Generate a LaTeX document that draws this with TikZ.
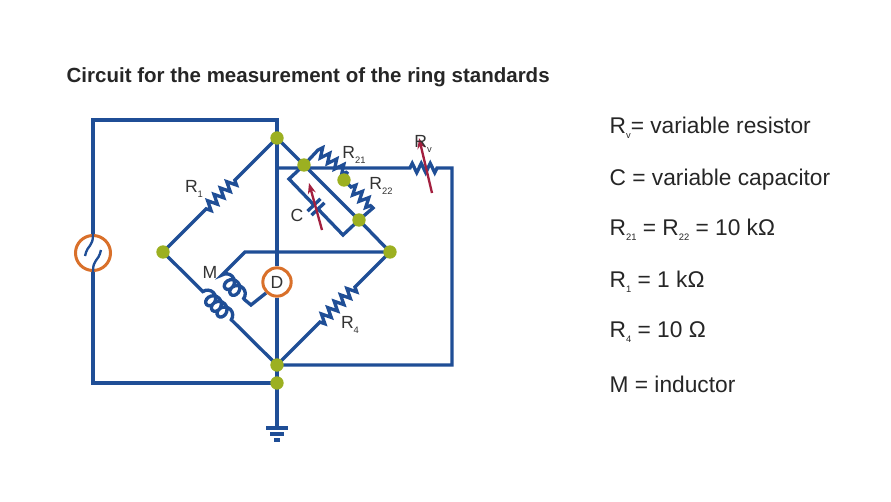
\documentclass[tikz,border=0pt]{standalone}
\usepackage{fontspec}
\setmainfont{Liberation Sans}
\usetikzlibrary{calc}
\usetikzlibrary{positioning}
\usetikzlibrary{decorations.pathmorphing}
\usetikzlibrary{decorations.pathreplacing}
\usetikzlibrary{arrows.meta}
\definecolor{wire}{HTML}{1F4E96}
\definecolor{dot}{HTML}{9CB021}
\definecolor{ring}{HTML}{D9702A}
\definecolor{knob}{HTML}{A3203F}
\newcommand{\lowsub}[1]{\raisebox{-0.45ex}{\footnotesize #1}}
\tikzset{
  junction/.style={circle, fill=dot, inner sep=0pt, minimum size=0.4cm},
  res/.style={decorate, decoration={zigzag, amplitude=0.14cm, segment length=0.27cm}},
  ind/.style={decorate, decoration={coil, aspect=0.9, amplitude=0.2cm, segment length=0.24cm}},
  lbl/.style={font=\fontsize{15}{17}\selectfont, inner sep=0pt},
  legend/.style={font=\fontsize{19.4}{23}\selectfont, anchor=west, inner sep=0pt},
}
\begin{document}
\begin{tikzpicture}[x=0.03cm, y=-0.03cm, line width=0.1cm, wire]
	\useasboundingbox (0,0) rectangle (891,501);
	\fill[white] (0,0) rectangle (891,501);
	
	\node[font=\bfseries\fontsize{17.5}{20}\selectfont, anchor=west, inner sep=0pt, black!85] (title) at (65,77) {Circuit for the measurement of the ring standards};
	
	% bridge corners
	\coordinate (T) at (277,138);
	\coordinate (L) at (163,252);
	\coordinate (R) at (390,252);
	\coordinate (B) at (277,365);
	\coordinate (G) at (277,383);
	\coordinate (P1) at (304,165);
	\coordinate (P2) at (344,180);
	\coordinate (P3) at (359,220);
	\coordinate (E) at (277,428);
	
	% source loop
	\draw (G) -- (93,383) -- (93,120) -- (277,120) -- (T);
	\node[circle, draw=ring, fill=white, line width=0.09cm, minimum size=1.05cm] (S) at (93,253) {};
	\draw[line width=0.07cm] ($(S)+(-8,3)$) .. controls ($(S)+(-5,-10)$) and ($(S)+(0,-5)$) .. (S) .. controls ($(S)+(0,5)$) and ($(S)+(5,10)$) .. ($(S)+(8,-3)$);
	
	% bridge arms
	\draw (T) -- ($(T)!0.37!(L)$) decorate[res]{-- ($(T)!0.63!(L)$)} -- (L);
	\draw (L) -- ($(L)!0.35!(B)$) decorate[ind]{-- ($(L)!0.6!(B)$)} -- (B);
	\draw (R) -- ($(R)!0.31!(B)$) decorate[res]{-- ($(R)!0.62!(B)$)} -- (B);
	\draw (T) -- (P1) -- (P3) -- (R);
	
	% R21, R22 and C
	\draw (P1) -- (318,150) decorate[res]{-- (347,173)} -- (P2);
	\draw (P2) -- (351,187) decorate[res]{-- (373,208)} -- (P3);
	\draw (P1) -- (289,179) -- (314,205);
	\draw (318,209) -- (343,235) -- (P3);
	\draw (320.5,198.8) -- (307.5,211.2);
	\draw (324.5,202.8) -- (311.5,215.2);
	\draw[knob, line width=0.07cm, -{Stealth[length=0.32cm]}] (322,230) -- (309,183);
	
	% detector and ground
	\node[circle, draw=ring, line width=0.09cm, minimum size=0.85cm] (D) at (277,282) {};
	\draw (T) -- (D.north);
	\draw (D.south) -- (B) -- (G) -- (E);
	\node[lbl, black!80] at (D) {D};
	\draw (E) ++(-11,0) -- ++(22,0);
	\draw (E) ++(-7,6) -- ++(14,0);
	\draw (E) ++(-3,12) -- ++(6,0);
	
	% mutual inductor
	\draw (R) -- (245,252) -- (222,275) decorate[ind]{-- (245,300)} -- (251,305) -- (D.south west);
	
	% Rv loop
	\draw (277,168) -- (410,168) decorate[res]{-- (440,168)} -- (452,168) -- (452,365) -- (B);
	\draw[knob, line width=0.07cm, -{Stealth[length=0.32cm]}] (432,193) -- (419,138);
	
	\foreach \j in {T,L,R,B,G,P1,P2,P3}
		\node[junction] at (\j) {};
	
	% labels
	\node[lbl, black!80] at (194,189) {R\lowsub{1}};
	\node[lbl, black!80] at (350,325) {R\lowsub{4}};
	\node[lbl, black!80] at (354,155) {R\lowsub{21}};
	\node[lbl, black!80] at (381,186) {R\lowsub{22}};
	\node[lbl, black!80] at (423,144) {R\lowsub{v}};
	\node[lbl, black!80] at (297,215) {C};
	\node[lbl, black!80] at (210,272) {M};
	
	% legend
	\node[legend, black!85] (l1) at (608,128) {R\lowsub{v}= variable resistor};
	\node[legend, black!85] (l2) at (608,180) {C = variable capacitor};
	\node[legend, black!85] (l3) at (608,230) {R\lowsub{21} = R\lowsub{22} = 10 kΩ};
	\node[legend, black!85] (l4) at (608,282) {R\lowsub{1} = 1 kΩ};
	\node[legend, black!85] (l5) at (608,332) {R\lowsub{4} = 10 Ω};
	\node[legend, black!85] (l6) at (608,384) {M = inductor};
\end{tikzpicture}
\end{document}
